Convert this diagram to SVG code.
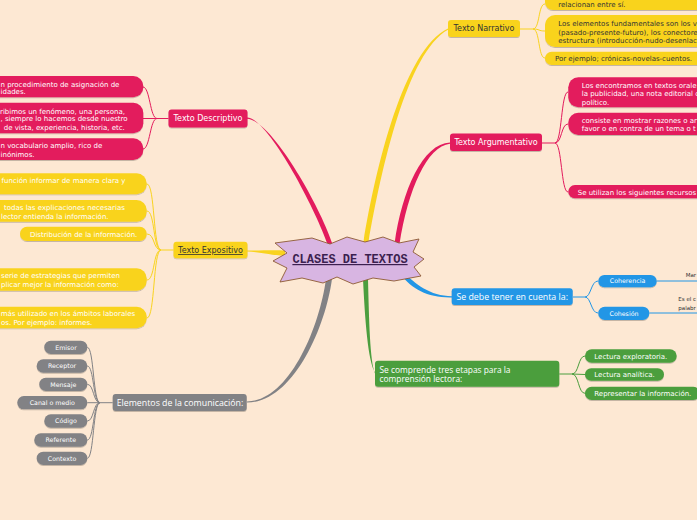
<svg xmlns="http://www.w3.org/2000/svg" width="697" height="520" viewBox="0 0 697 520">
<defs>
<filter id="sh" x="-10%" y="-20%" width="120%" height="160%">
<feDropShadow dx="0" dy="1" stdDeviation="0.7" flood-color="#000" flood-opacity="0.22"/>
</filter>
</defs>
<style>
.t{font-family:"DejaVu Sans",Verdana,sans-serif}
.m8{font-size:8px}
.s7{font-size:7px}
.s6{font-size:6.3px}
.o9{font-family:"Open Sans","Liberation Sans",sans-serif;font-size:8.8px;fill:#fff}
.w{fill:#fff}
.d{fill:#333}
.c{text-anchor:middle}
.pk{fill:#e31b5d}
.yl{fill:#f9d31f}
.bl{fill:#2196e6}
.gr{fill:#4b9e3e}
.gy{fill:#828285}
.ln{fill:none;stroke-width:1}
</style>
<rect width="697" height="520" fill="#fde8d3"/>

<g id="connectors">
<path class="yl" d="M363.5,242 C375.5,168 404,49 448,28.6 L448,29.8 C407,52 381,170 368.5,242 Z"/>
<path class="pk" d="M327.5,244 C316,210 268,117.6 247,117.6 L247,118.8 C272,119.5 322,210 332.5,244 Z"/>
<path class="pk" d="M394.5,244 C402,190 423,143.5 450,142.6 L450,143.8 C427,146 408,190 399.5,244 Z"/>
<path class="yl" d="M247,250.4 C260,250.6 270,250 285,250.4 L285,255.8 C270,255.2 260,251.8 247,251.6 Z"/>
<path class="gy" d="M326,279 C319,330 288,401.4 247,401.4 L247,402.6 C292,402.6 325,330 332,279 Z"/>
<path class="gr" d="M363,279 C365,320 368,361 375,372.4 L375,373.6 C370,361 369,320 368,279 Z"/>
<path class="bl" d="M403,271.5 C415,284 430,296 452,296.2 L452,297.4 C428,298 412,289 401,275 Z"/>

<g stroke="#f9d31f" class="ln">
<path d="M520,29 L533,29 C540,29 538,4 545,4"/>
<path d="M533,29 C540,29 538,31 545,31"/>
<path d="M533,29 C540,29 538,58 545,58"/>
<path d="M173.5,250 L161,250 C153,250 155,184 147,184"/>
<path d="M161,250 C153,250 155,211 147,211"/>
<path d="M161,250 C153,250 155,234 147,234"/>
<path d="M161,250 C153,250 155,280 147,280"/>
<path d="M161,250 C153,250 155,318 147,318"/>
</g>
<g stroke="#e31b5d" class="ln">
<path d="M168.5,118.5 L157,118.5 C150,118.5 150,87 143,87"/>
<path d="M157,118.5 L143,118.5"/>
<path d="M157,118.5 C150,118.5 150,149 143,149"/>
<path d="M542,143 L555,143 C562,143 561,92 568,92"/>
<path d="M555,143 C562,143 561,124 568,124"/>
<path d="M555,143 C562,143 561,192 568,192"/>
</g>
<g stroke="#2196e6" class="ln">
<path d="M573,297 L585,297 C591,297 591,281 598,281"/>
<path d="M585,297 C591,297 591,313 598,313"/>
<path d="M656.7,281 L697,281"/>
<path d="M649.3,313 L697,313"/>
</g>
<g stroke="#4b9e3e" class="ln">
<path d="M559.3,374 L572,374 C579,374 578,356 585,356"/>
<path d="M572,374 L585,374.5"/>
<path d="M572,374 C579,374 578,393.3 585,393.3"/>
</g>
<g stroke="#828285" class="ln">
<path d="M112.7,402.7 L100,402.7 C93,402.7 94,347.3 87.3,347.3"/>
<path d="M100,402.7 C93,402.7 94,366 87.3,366"/>
<path d="M100,402.7 C93,402.7 94,384.3 87.3,384.3"/>
<path d="M100,402.7 L87.3,402.7"/>
<path d="M100,402.7 C93,402.7 94,421 87.3,421"/>
<path d="M100,402.7 C93,402.7 94,440 87.3,440"/>
<path d="M100,402.7 C93,402.7 94,458.3 87.3,458.3"/>
</g>
</g>

<g id="center">
<polygon points="275,243 312,238 330,244 347,237 365,242 383,237 399,243 419,239 413,252 424,259 414,267 421,276 394,281 373,278 353,284 337,277 323,283 302,278 280,282 287,268 273,261 287,253" fill="#d8b5e2" stroke="#8d5a33" stroke-width="0.9"/>
<text x="350" y="263" text-anchor="middle" font-family="'Liberation Mono','DejaVu Sans Mono',monospace" font-size="12" font-weight="bold" fill="#3b1f4f" text-decoration="underline" xml:space="preserve">CLASES DE TEXTOS</text>
</g>

<g id="narrativo">
<rect x="448" y="20" width="72" height="17" rx="3" class="yl" filter="url(#sh)"/>
<text x="484" y="31.3" class="t m8 d c">Texto Narrativo</text>
</g>
<g id="narrativo-1">
<rect x="545" y="-10" width="170" height="20" rx="8" class="yl" filter="url(#sh)"/>
<text x="558.3" y="7.3" class="t s7 d">relacionan entre sí.</text>
</g>
<g id="narrativo-2">
<rect x="545" y="15" width="170" height="32" rx="10" class="yl" filter="url(#sh)"/>
<text class="t s7 d"><tspan x="558.3" y="26.4">Los elementos fundamentales son los v</tspan><tspan x="558.3" y="34.8">(pasado-presente-futuro), los conectore</tspan><tspan x="558.3" y="43.2">estructura (introducción-nudo-desenlac</tspan></text>
</g>
<g id="narrativo-3">
<rect x="545" y="51.7" width="170" height="13.3" rx="6.6" class="yl" filter="url(#sh)"/>
<text x="555" y="61" class="t s7 d">Por ejemplo; crónicas-novelas-cuentos.</text>
</g>

<g id="descriptivo">
<rect x="168.5" y="109.5" width="79" height="18" rx="3" class="pk" filter="url(#sh)"/>
<text x="208" y="121.4" class="t m8 w c">Texto Descriptivo</text>
</g>
<g id="descriptivo-1">
<rect x="-20" y="76" width="163.3" height="21.3" rx="10" class="pk" filter="url(#sh)"/>
<text class="t s7 w"><tspan x="0.5" y="86.5">n procedimiento de asignación de</tspan><tspan x="0.5" y="94.2">idades.</tspan></text>
</g>
<g id="descriptivo-2">
<rect x="-20" y="102.7" width="163.3" height="30.6" rx="10" class="pk" filter="url(#sh)"/>
<text class="t s7 w"><tspan x="0" y="113.5">ribimos un fenómeno, una persona,</tspan><tspan x="0.5" y="120.9">, siempre lo hacemos desde nuestro</tspan><tspan x="3.7" y="129.8">de vista, experiencia, historia, etc.</tspan></text>
</g>
<g id="descriptivo-3">
<rect x="-20" y="138.3" width="163.3" height="21.7" rx="10" class="pk" filter="url(#sh)"/>
<text class="t s7 w"><tspan x="0.5" y="148.2">n vocabulario amplio, rico de</tspan><tspan x="0.5" y="156.8">inónimos.</tspan></text>
</g>

<g id="argumentativo">
<rect x="450" y="133.5" width="92" height="17.5" rx="3" class="pk" filter="url(#sh)"/>
<text x="496" y="145.1" class="t m8 w c">Texto Argumentativo</text>
</g>
<g id="argumentativo-1">
<rect x="568.3" y="77.3" width="150" height="30" rx="10" class="pk" filter="url(#sh)"/>
<text class="t s7 w"><tspan x="581.7" y="87.5">Los encontramos en textos orale</tspan><tspan x="581.7" y="96.2">la publicidad, una nota editorial c</tspan><tspan x="581.7" y="104.5">político.</tspan></text>
</g>
<g id="argumentativo-2">
<rect x="568.3" y="112.7" width="150" height="22.3" rx="10" class="pk" filter="url(#sh)"/>
<text class="t s7 w"><tspan x="581.7" y="123.2">consiste en mostrar razones o ar</tspan><tspan x="581.7" y="130.8">favor o en contra de un tema o t</tspan></text>
</g>
<g id="argumentativo-3">
<rect x="568.3" y="185" width="150" height="13.3" rx="6.6" class="pk" filter="url(#sh)"/>
<text x="577.7" y="194.8" class="t s7 w">Se utilizan los siguientes recursos</text>
</g>

<g id="expositivo">
<rect x="173.5" y="241.7" width="74" height="16.6" rx="3" class="yl" filter="url(#sh)"/>
<text x="210.5" y="253" class="t m8 d c" text-decoration="underline">Texto Expositivo</text>
</g>
<g id="expositivo-1">
<rect x="-20" y="173.3" width="166.7" height="21" rx="10" class="yl" filter="url(#sh)"/>
<text x="1.5" y="183.2" class="t s7 w">función informar de manera clara y</text>
</g>
<g id="expositivo-2">
<rect x="-20" y="200" width="166.7" height="21.7" rx="10" class="yl" filter="url(#sh)"/>
<text class="t s7 w"><tspan x="4" y="210.2">todas las explicaciones necesarias</tspan><tspan x="1" y="218.5">lector entienda la información.</tspan></text>
</g>
<g id="expositivo-3">
<rect x="20" y="226.7" width="126.7" height="14.3" rx="7" class="yl" filter="url(#sh)"/>
<text x="30" y="236.8" class="t s7 w">Distribución de la información.</text>
</g>
<g id="expositivo-4">
<rect x="-20" y="268.3" width="166.7" height="22.4" rx="10" class="yl" filter="url(#sh)"/>
<text class="t s7 w"><tspan x="1" y="278.2">serie de estrategias que permiten</tspan><tspan x="1" y="286.8">plicar mejor la información como:</tspan></text>
</g>
<g id="expositivo-5">
<rect x="-20" y="306.7" width="166.7" height="21.6" rx="10" class="yl" filter="url(#sh)"/>
<text class="t s7 w"><tspan x="0.7" y="315.8">más utilizado en los ámbitos laborales</tspan><tspan x="1" y="324.5">os. Por ejemplo: informes.</tspan></text>
</g>

<g id="cuenta">
<rect x="451.7" y="288.3" width="121" height="16.7" rx="3" class="bl" filter="url(#sh)"/>
<text x="512.2" y="299.8" class="o9 c">Se debe tener en cuenta la:</text>
</g>
<g id="coherencia">
<rect x="598.3" y="275" width="58.4" height="12.3" rx="6" class="bl" filter="url(#sh)"/>
<text x="627.5" y="283.3" class="t s6 w c">Coherencia</text>
</g>
<g id="cohesion">
<rect x="598.3" y="306.7" width="51" height="13.3" rx="6.5" class="bl" filter="url(#sh)"/>
<text x="624" y="315.6" class="t s6 w c">Cohesión</text>
</g>
<g id="coherencia-1">
<text x="685.7" y="277" class="t d" font-size="5.5">Mar</text>
</g>
<g id="cohesion-1">
<text class="t d" font-size="5.5"><tspan x="678.3" y="301">Es el c</tspan><tspan x="678.3" y="309.5">palabr</tspan></text>
</g>

<g id="comprension">
<rect x="375" y="360.7" width="184.3" height="26" rx="3" class="gr" filter="url(#sh)"/>
<text class="o9" style="font-size:8.4px"><tspan x="379.5" y="372.8">Se comprende tres etapas para la</tspan><tspan x="379.5" y="381.8">comprensión lectora:</tspan></text>
</g>
<g id="lectura-1">
<rect x="585" y="349.3" width="91.7" height="13.4" rx="6.7" class="gr" filter="url(#sh)"/>
<text x="594.3" y="358.6" class="t s7 w">Lectura exploratoria.</text>
</g>
<g id="lectura-2">
<rect x="585" y="368.3" width="79" height="12.4" rx="6.2" class="gr" filter="url(#sh)"/>
<text x="594.3" y="377" class="t s7 w">Lectura analítica.</text>
</g>
<g id="lectura-3">
<rect x="585" y="386.7" width="115" height="13.3" rx="6.6" class="gr" filter="url(#sh)"/>
<text x="594.3" y="396" class="t s7 w">Representar la información.</text>
</g>

<g id="elementos">
<rect x="112.7" y="394" width="134" height="17" rx="3" class="gy" filter="url(#sh)"/>
<text x="180" y="405.7" class="o9 c">Elementos de la comunicación:</text>
</g>
<g id="emisor"><rect x="44.3" y="340.7" width="43" height="13.3" rx="6.5" class="gy" filter="url(#sh)"/><text x="66" y="349.6" class="t s6 w c">Emisor</text></g>
<g id="receptor"><rect x="36.7" y="359.3" width="50.6" height="13.4" rx="6.5" class="gy" filter="url(#sh)"/><text x="62" y="368.3" class="t s6 w c">Receptor</text></g>
<g id="mensaje"><rect x="39.3" y="377.7" width="48" height="13.3" rx="6.5" class="gy" filter="url(#sh)"/><text x="63.3" y="386.6" class="t s6 w c">Mensaje</text></g>
<g id="canal"><rect x="17.3" y="396" width="70" height="13.3" rx="6.5" class="gy" filter="url(#sh)"/><text x="52.3" y="404.9" class="t s6 w c">Canal o medio</text></g>
<g id="codigo"><rect x="44.3" y="414.3" width="43" height="13.4" rx="6.5" class="gy" filter="url(#sh)"/><text x="66" y="423.3" class="t s6 w c">Código</text></g>
<g id="referente"><rect x="34.3" y="433.3" width="53" height="13.4" rx="6.5" class="gy" filter="url(#sh)"/><text x="60.8" y="442.3" class="t s6 w c">Referente</text></g>
<g id="contexto"><rect x="36.7" y="451.7" width="50.6" height="13.3" rx="6.5" class="gy" filter="url(#sh)"/><text x="62" y="460.6" class="t s6 w c">Contexto</text></g>
</svg>
